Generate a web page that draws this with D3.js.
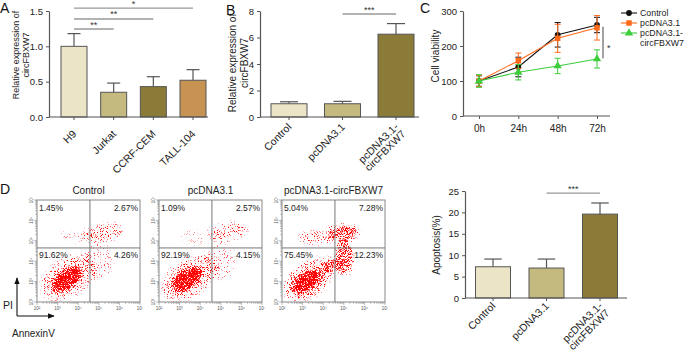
<!DOCTYPE html>
<html><head><meta charset="utf-8">
<script src="https://cdn.jsdelivr.net/npm/d3@7"></script>
<style>
html,body{margin:0;padding:0;background:#fff;}
svg{display:block;font-family:"Liberation Sans",Arial,Helvetica,sans-serif;}
</style></head><body>
<svg id="chart" width="685" height="352"></svg>
<script>
// ---------- data ----------
const catsA = ["H9", "Jurkat", "CCRF-CEM", "TALL-104"];
const valsA = [1.00, 0.35, 0.43, 0.52];
const errA = [0.18, 0.13, 0.14, 0.15];
const ticksA = [0, 0.5, 1.0, 1.5];
const colorsA = ["#ece4c6", "#c4b97f", "#8b7b38", "#c79352"];

const catsB = ["Control", "pcDNA3.1", "pcDNA3.1-|circFBXW7"];
const valsB = [1.0, 1.0, 6.25];
const errB = [0.15, 0.18, 0.8];
const ticksB = [0, 2, 4, 6, 8];
const colorsB = ["#ece4c6", "#c4b97f", "#8b7b38"];

const timesC = ["0h", "24h", "48h", "72h"];
const seriesC = ["Control", "pcDNA3.1", "pcDNA3.1-|circFBXW7"];
const ctrlC = [100, 140, 232, 260];
const ctrlErrC = [15, 28, 35, 22];
const pcC = [100, 158, 222, 252];
const pcErrC = [16, 22, 40, 35];
const circC = [100, 125, 143, 163];
const circErrC = [18, 22, 22, 26];
const ticksC = [0, 100, 200, 300];
const colorsC = ["#111111", "#ff6a1a", "#3ccc3c"];

const flowTitles = ["Control", "pcDNA3.1", "pcDNA3.1-circFBXW7"];
const flowUL = ["1.45%", "1.09%", "5.04%"];
const flowUR = ["2.67%", "2.57%", "7.28%"];
const flowLL = ["91.62%", "92.19%", "75.45%"];
const flowLR = ["4.26%", "4.15%", "12.23%"];
const flowDecades = [2, 3, 4, 5, 6, 7];
const flowTickLabels = ["10²", "10³", "10⁴", "10⁵", "10⁶", "10⁷"];
const flowGate = [4.57, 4.65];
// density regions: [AnnexinV log10, PI log10, rx, ry (decades), angle, density]
const flowClusters = [
  [[3.5, 3.2, 1.5, 0.95, -35, 0.36], [3.45, 3.12, 0.85, 0.45, -35, 1.0], [5.3, 5.4, 1.0, 0.45, -10, 0.36], [3.9, 5.2, 0.9, 0.35, 0, 0.22], [5.0, 4.0, 0.7, 0.9, 0, 0.26]],
  [[3.45, 3.2, 1.5, 0.95, -35, 0.36], [3.35, 3.12, 0.85, 0.45, -35, 1.0], [5.35, 5.45, 1.0, 0.45, -10, 0.34], [3.9, 5.2, 0.9, 0.35, 0, 0.2], [5.0, 4.0, 0.7, 0.9, 0, 0.26]],
  [[3.3, 3.1, 1.4, 0.85, -35, 0.4], [3.2, 3.0, 0.8, 0.42, -35, 1.0], [5.0, 4.2, 0.5, 0.85, 0, 0.66], [4.95, 5.4, 0.8, 0.4, 0, 0.66], [3.7, 5.15, 0.9, 0.35, 0, 0.4], [4.3, 3.8, 0.6, 0.3, -35, 0.45]]
];

const catsD = ["Control", "pcDNA3.1", "pcDNA3.1-|circFBXW7"];
const valsD = [7.3, 7.0, 19.6];
const errD = [1.8, 2.1, 2.6];
const ticksD = [0, 5, 10, 15, 20, 25];
const colorsD = ["#ece4c6", "#c4b97f", "#8b7b38"];

// ---------- drawing ----------
const svg = d3.select("#chart");
const AX = "#555";
const FONT = 9.5;

const defs = svg.append("defs");
const blur = defs.append("filter").attr("id", "blur").attr("x", "-50%").attr("y", "-50%").attr("width", "200%").attr("height", "200%")
  .attr("color-interpolation-filters", "sRGB");
blur.append("feGaussianBlur").attr("stdDeviation", 2.6);
const sp = defs.append("filter").attr("id", "speckle").attr("filterUnits", "userSpaceOnUse")
  .attr("color-interpolation-filters", "sRGB")
  .attr("x", 0).attr("y", 180).attr("width", 400).attr("height", 140);
sp.append("feTurbulence").attr("type", "fractalNoise").attr("baseFrequency", 1.3).attr("numOctaves", 1).attr("seed", 7).attr("result", "n");
sp.append("feColorMatrix").attr("in", "n").attr("type", "matrix")
  .attr("values", "0 0 0 0 1  0 0 0 0 0  0 0 0 0 0  2.6 0 0 0 -0.8").attr("result", "m");
sp.append("feComposite").attr("in", "SourceGraphic").attr("in2", "m").attr("operator", "arithmetic")
  .attr("k1", 0).attr("k2", 3).attr("k3", 3).attr("k4", -3.05).attr("result", "c");
sp.append("feColorMatrix").attr("in", "c").attr("type", "matrix")
  .attr("values", "0 0 0 0 1  0 0 0 0 0  0 0 0 0 0  0 0 0 1 0");

function panelLabel(t, x, y, fs) {
  svg.append("text").attr("x", x).attr("y", y).attr("font-size", fs || 14).attr("fill", "#111").text(t);
}

function rotLabel(g, x, y, label, fs) {
  const lines = label.split("|");
  const t = g.append("text").attr("text-anchor", "end").attr("font-size", fs).attr("fill", "#222")
    .attr("transform", `translate(${x},${y}) rotate(-45)`);
  lines.forEach((l, i) => t.append("tspan").attr("x", 0).attr("dy", i === 0 ? "0.35em" : "0.95em").text(l));
}

function yLabel(x, cy, lines, fs) {
  const t = svg.append("text").attr("text-anchor", "middle").attr("font-size", fs).attr("fill", "#222")
    .attr("transform", `translate(${x},${cy}) rotate(-90)`);
  lines.forEach((l, i) => t.append("tspan").attr("x", 0).attr("dy", i === 0 ? 0 : "1.2em").text(l));
}

function styleAxis(g) {
  g.selectAll("path.domain").attr("stroke", AX).attr("stroke-width", 1.2);
  g.selectAll(".tick line").attr("stroke", AX);
  g.selectAll(".tick text").attr("fill", "#222").attr("font-size", FONT).attr("font-family", "Liberation Sans, Arial, sans-serif");
}

function barPanel(o) {
  const g = svg.append("g");
  const y = d3.scaleLinear().domain([0, o.ymax]).range([o.y0, o.y1]);
  const x = d3.scalePoint().domain(o.cats).range([o.c0, o.c1]);
  g.selectAll("line.err").data(o.cats).join("line")
    .attr("x1", d => x(d)).attr("x2", d => x(d))
    .attr("y1", (d, i) => y(o.vals[i])).attr("y2", (d, i) => y(o.vals[i] + o.errs[i]))
    .attr("stroke", "#555").attr("stroke-width", 1.2);
  g.selectAll("line.cap").data(o.cats).join("line")
    .attr("x1", d => x(d) - o.bw / 4).attr("x2", d => x(d) + o.bw / 4)
    .attr("y1", (d, i) => y(o.vals[i] + o.errs[i])).attr("y2", (d, i) => y(o.vals[i] + o.errs[i]))
    .attr("stroke", "#555").attr("stroke-width", 1.2);
  g.selectAll("rect.bar").data(o.cats).join("rect")
    .attr("x", d => x(d) - o.bw / 2).attr("width", o.bw)
    .attr("y", (d, i) => y(o.vals[i])).attr("height", (d, i) => o.y0 - y(o.vals[i]))
    .attr("fill", (d, i) => o.colors[i]).attr("stroke", "#555").attr("stroke-width", 1);
  const ya = g.append("g").attr("transform", `translate(${o.ax0},0)`)
    .call(d3.axisLeft(y).tickValues(o.ticks).tickSize(3).tickSizeOuter(0).tickFormat(o.fmt || (d => d)));
  styleAxis(ya);
  g.append("line").attr("x1", o.ax0).attr("x2", o.ax1).attr("y1", o.y0).attr("y2", o.y0).attr("stroke", AX).attr("stroke-width", 1.2);
  g.selectAll("line.xt").data(o.cats).join("line")
    .attr("x1", d => x(d)).attr("x2", d => x(d)).attr("y1", o.y0).attr("y2", o.y0 + 3).attr("stroke", AX);
  o.cats.forEach(c => rotLabel(g, x(c) + o.lx, o.y0 + o.ly, c, o.lfs || 10.5));
  (o.sig || []).forEach(s => {
    const yy = y(s.v);
    g.append("line").attr("x1", x(s.a)).attr("x2", x(s.b)).attr("y1", yy).attr("y2", yy).attr("stroke", "#999").attr("stroke-width", 1.4);
    g.append("text").attr("x", (x(s.a) + x(s.b)) / 2).attr("y", yy - 1.5).attr("text-anchor", "middle").attr("font-size", 9).attr("fill", "#333").text(s.t);
  });
  return g;
}

// Panel A
panelLabel("A", 0, 13);
yLabel(18.5, 55, ["Relative expression of", "circFBXW7"], 9);
barPanel({cats: catsA, vals: valsA, errs: errA, colors: colorsA, ymax: 1.5, ticks: ticksA, fmt: d3.format(".1f"),
  y0: 117, y1: 11, c0: 74, c1: 193, bw: 26, ax0: 49, ax1: 208, lx: 0.5, ly: 15,
  sig: [{a: "H9", b: "Jurkat", v: 1.245, t: "**"}, {a: "H9", b: "CCRF-CEM", v: 1.387, t: "**"}, {a: "H9", b: "TALL-104", v: 1.54, t: "*"}]});

// Panel B
panelLabel("B", 226, 15);
yLabel(236, 63, ["Relative expression of", "circFBXW7"], 10);
barPanel({cats: catsB, vals: valsB, errs: errB, colors: colorsB, ymax: 8, ticks: ticksB,
  y0: 117, y1: 11, c0: 289, c1: 396, bw: 36, ax0: 260, ax1: 419, lx: 0.5, ly: 8,
  sig: [{a: "pcDNA3.1", b: "pcDNA3.1-|circFBXW7", v: 7.77, t: "***"}]});

// Panel C
panelLabel("C", 420, 13);
yLabel(438.5, 56, ["Cell viability"], 10);
(function () {
  const g = svg.append("g");
  const y = d3.scaleLinear().domain([0, 300]).range([116, 11]);
  const x = d3.scalePoint().domain(timesC).range([479, 597]);
  const ya = g.append("g").attr("transform", "translate(463,0)")
    .call(d3.axisLeft(y).tickValues(ticksC).tickSize(3).tickSizeOuter(0));
  styleAxis(ya);
  const xa = g.append("g").attr("transform", "translate(0,116)")
    .call(d3.axisBottom(x).tickSize(3).tickSizeOuter(0));
  styleAxis(xa);
  xa.select("path.domain").attr("d", "M463,0H610");
  xa.selectAll(".tick text").attr("font-size", 10).attr("dy", "1em");
  const data = [[ctrlC, ctrlErrC], [pcC, pcErrC], [circC, circErrC]];
  const line = d3.line().x((d, i) => x(timesC[i])).y(d => y(d));
  data.forEach(([v, e], k) => {
    const col = colorsC[k];
    const sg = g.append("g");
    v.forEach((d, i) => {
      const xx = x(timesC[i]);
      sg.append("line").attr("x1", xx).attr("x2", xx).attr("y1", y(d - e[i])).attr("y2", y(d + e[i])).attr("stroke", col).attr("stroke-width", 1);
      [d - e[i], d + e[i]].forEach(w => sg.append("line").attr("x1", xx - 3).attr("x2", xx + 3).attr("y1", y(w)).attr("y2", y(w)).attr("stroke", col).attr("stroke-width", 1));
    });
    sg.append("path").attr("d", line(v)).attr("fill", "none").attr("stroke", col).attr("stroke-width", 1.1);
    const sym = [d3.symbolCircle, d3.symbolSquare, d3.symbolTriangle][k];
    sg.selectAll("path.m").data(v).join("path")
      .attr("transform", (d, i) => `translate(${x(timesC[i])},${y(d)})`)
      .attr("d", d3.symbol().type(sym).size(k === 0 ? 26 : 30)).attr("fill", col);
  });
  g.append("line").attr("x1", 603).attr("x2", 603).attr("y1", y(255)).attr("y2", y(165)).attr("stroke", "#444").attr("stroke-width", 1);
  g.append("text").attr("x", 607).attr("y", y(200) + 5).attr("font-size", 9).attr("fill", "#333").text("*");
  const lg = g.append("g").attr("transform", "translate(621,13)");
  seriesC.forEach((s, k) => {
    const row = lg.append("g").attr("transform", `translate(0,${k * 10})`);
    row.append("line").attr("x1", 0).attr("x2", 16).attr("stroke", colorsC[k]).attr("stroke-width", 1.1);
    const sym = [d3.symbolCircle, d3.symbolSquare, d3.symbolTriangle][k];
    row.append("path").attr("transform", "translate(8,0)").attr("d", d3.symbol().type(sym).size(k === 0 ? 26 : 30)).attr("fill", colorsC[k]);
    const t = row.append("text").attr("x", 19).attr("y", 3.2).attr("font-size", 8.8).attr("fill", "#222");
    s.split("|").forEach((l, i) => t.append("tspan").attr("x", 19).attr("dy", i === 0 ? 0 : 10).text(l));
  });
})();

// Panel D - flow cytometry
panelLabel("D", 0, 194);
const flowLefts = [37, 159, 282];
const BOX = 103, FTOP = 200, FH = 102;
flowTitles.forEach((title, p) => {
  const L = flowLefts[p];
  const g = svg.append("g");
  const fx = d3.scaleLinear().domain([2, 7]).range([L, L + BOX]);
  const fy = d3.scaleLinear().domain([2, 7]).range([FTOP + FH, FTOP]);
  const clipId = "clip" + p;
  defs.append("clipPath").attr("id", clipId).append("rect").attr("x", L).attr("y", FTOP).attr("width", BOX).attr("height", FH);
  const cloud = g.append("g").attr("clip-path", `url(#${clipId})`).append("g").attr("filter", "url(#speckle)");
  const inner = cloud.append("g").attr("filter", "url(#blur)");
  inner.selectAll("ellipse").data(flowClusters[p]).join("ellipse")
    .attr("cx", 0).attr("cy", 0)
    .attr("rx", d => d[2] * (BOX / 5)).attr("ry", d => d[3] * (FH / 5))
    .attr("transform", d => `translate(${fx(d[0])},${fy(d[1])}) rotate(${d[4]})`)
    .attr("fill", "#ff0000").attr("fill-opacity", d => d[5]);
  g.append("rect").attr("x", L).attr("y", FTOP).attr("width", BOX).attr("height", FH).attr("fill", "none").attr("stroke", "#888").attr("stroke-width", 1);
  g.append("line").attr("x1", fx(flowGate[0])).attr("x2", fx(flowGate[0])).attr("y1", FTOP).attr("y2", FTOP + FH).attr("stroke", "#777").attr("stroke-width", 1);
  g.append("line").attr("x1", L).attr("x2", L + BOX).attr("y1", fy(flowGate[1])).attr("y2", fy(flowGate[1])).attr("stroke", "#777").attr("stroke-width", 1);
  const lg = d3.scaleLog().domain([1e2, 1e7]);
  lg.ticks().forEach(v => {
    const lv = Math.log10(v);
    const major = Math.abs(lv - Math.round(lv)) < 1e-6;
    const len = major ? 3 : 1.8;
    g.append("line").attr("x1", fx(lv)).attr("x2", fx(lv)).attr("y1", FTOP + FH).attr("y2", FTOP + FH + len).attr("stroke", "#888").attr("stroke-width", 0.6);
    g.append("line").attr("x1", L).attr("x2", L - len).attr("y1", fy(lv)).attr("y2", fy(lv)).attr("stroke", "#888").attr("stroke-width", 0.6);
  });
  flowDecades.forEach((d, i) => {
    g.append("text").attr("x", fx(d)).attr("y", FTOP + FH + 8).attr("text-anchor", "middle").attr("font-size", 4.5).attr("fill", "#555").text(flowTickLabels[i]);
    g.append("text").attr("transform", `translate(${L - 4},${fy(d)}) rotate(-90)`).attr("text-anchor", "middle").attr("font-size", 4.5).attr("fill", "#555").text(flowTickLabels[i]);
  });
  const pf = 8.5;
  g.append("text").attr("x", L + 2).attr("y", FTOP + 11).attr("font-size", pf).attr("fill", "#222").text(flowUL[p]);
  g.append("text").attr("x", L + BOX - 2).attr("y", FTOP + 11).attr("text-anchor", "end").attr("font-size", pf).attr("fill", "#222").text(flowUR[p]);
  g.append("text").attr("x", L + 2).attr("y", FTOP + 58).attr("font-size", pf).attr("fill", "#222").text(flowLL[p]);
  g.append("text").attr("x", L + BOX - 2).attr("y", FTOP + 58).attr("text-anchor", "end").attr("font-size", pf).attr("fill", "#222").text(flowLR[p]);
  g.append("text").attr("x", L + BOX / 2).attr("y", 194).attr("text-anchor", "middle").attr("font-size", 10).attr("fill", "#222").text(title);
});
defs.append("marker").attr("id", "arr").attr("viewBox", "0 0 10 10").attr("refX", 9).attr("refY", 5)
  .attr("markerWidth", 6).attr("markerHeight", 6).attr("orient", "auto")
  .append("path").attr("d", "M0,1L10,5L0,9Z").attr("fill", "#111");
svg.append("line").attr("x1", 17).attr("y1", 316).attr("x2", 17).attr("y2", 278).attr("stroke", "#111").attr("stroke-width", 1.1).attr("marker-end", "url(#arr)");
svg.append("line").attr("x1", 17).attr("y1", 316).attr("x2", 54).attr("y2", 316).attr("stroke", "#111").attr("stroke-width", 1.1).attr("marker-end", "url(#arr)");
svg.append("text").attr("x", 3).attr("y", 309).attr("font-size", 10.5).attr("fill", "#222").text("PI");
svg.append("text").attr("x", 12).attr("y", 337).attr("font-size", 10).attr("fill", "#222").text("AnnexinV");

// Apoptosis bar panel
yLabel(440, 245, ["Apoptosis(%)"], 10);
barPanel({cats: catsD, vals: valsD, errs: errD, colors: colorsD, ymax: 25, ticks: ticksD,
  y0: 298, y1: 191, c0: 493, c1: 600, bw: 35, ax0: 465, ax1: 627, lx: 0.5, ly: 6,
  sig: [{a: "pcDNA3.1", b: "pcDNA3.1-|circFBXW7", v: 24.5, t: "***"}]});
</script>
</body></html>
